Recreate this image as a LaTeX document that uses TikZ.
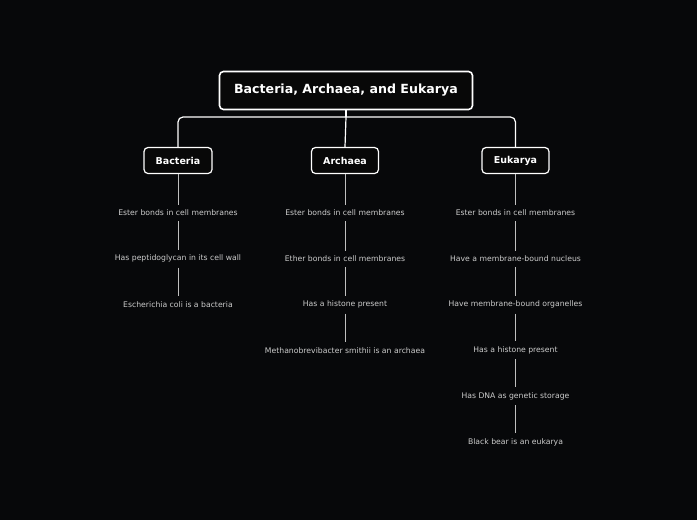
\documentclass[tikz,border=0pt]{standalone}
\usepackage{fontspec}
\setmainfont{DejaVu Sans}
\begin{document}
\begin{tikzpicture}[x=1pt,y=-1pt,
  box/.style={draw=white,line width=1.2pt,rounded corners=4pt,fill=black!97,text=white,font=\bfseries},
  leaf/.style={text=white!80!black,font=\fontsize{7.7}{9}\selectfont,inner sep=5pt},
  ln/.style={draw=white!75!black,line width=0.6pt}]
\fill[fill={rgb,255:red,7;green,8;blue,10}] (0,0) rectangle (697,520);
\useasboundingbox (0,0) rectangle (697,520);
\node[box,minimum width=253pt,minimum height=38pt,font=\bfseries\fontsize{12.6}{14}\selectfont,line width=1.6pt] (root) at (346,90.5) {Bacteria, Archaea, and Eukarya};
\node[box,minimum width=68pt,minimum height=26pt,font=\bfseries\fontsize{9.5}{11}\selectfont] (b) at (178,160.5) {Bacteria};
\node[box,minimum width=67pt,minimum height=26pt,font=\bfseries\fontsize{9.5}{11}\selectfont] (a) at (345,160.5) {Archaea};
\node[box,minimum width=67pt,minimum height=26pt,font=\bfseries\fontsize{9.5}{11}\selectfont] (e) at (515.5,160.5) {Eukarya};
\coordinate (j) at (346,117);
\draw[white,line width=1.2pt] (root.south) -- (j);
\draw[white,line width=1.2pt,rounded corners=5pt] (b.north) |- (j) -| (e.north);
\draw[white,line width=1.2pt] (j) -- (a.north);
\foreach \n/\x/\list in {b/178/{Ester bonds in cell membranes,Has peptidoglycan in its cell wall,Escherichia coli is a bacteria},
  a/345/{Ester bonds in cell membranes,Ether bonds in cell membranes,Has a histone present,Methanobrevibacter smithii is an archaea},
  e/515.5/{Ester bonds in cell membranes,Have a membrane-bound nucleus,Have membrane-bound organelles,Has a histone present,Has DNA as genetic storage,Black bear is an eukarya}}{
  \foreach \t [count=\i] in \list {
    \node[leaf] (\n\i) at (\x,{213+45.8*(\i-1)}) {\t};
  }
}
\foreach \n/\k in {b/3,a/4,e/6}{
  \draw[ln] (\n.south) -- (\n1.north);
  \foreach \i [evaluate=\i as \j using int(\i+1)] in {1,...,\numexpr\k-1\relax}{
    \draw[ln] (\n\i.south) -- (\n\j.north);
  }
}
\end{tikzpicture}
\end{document}
